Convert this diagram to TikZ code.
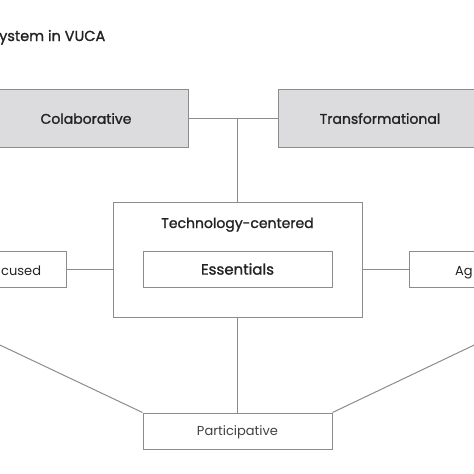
\documentclass[tikz,border=0pt]{standalone}
\usepackage{fontspec}
\setmainfont{Poppins}
\newfontfamily\medf[FakeBold=1.3]{Poppins}
\usetikzlibrary{positioning}
\definecolor{linegray}{HTML}{8C8C8C}
\definecolor{boxgray}{HTML}{DCDCDF}
\definecolor{textdark}{HTML}{222222}
\begin{document}
\begin{tikzpicture}[x=1pt,y=-1pt,font=\fontsize{14}{16}\selectfont,text=textdark]
\tikzset{
    %Define style for filled boxes
    kasse/.style={
           rectangle,
           draw=linegray, fill=boxgray, line width=1pt,
           minimum width=204pt,
           minimum height=58pt,
           inner sep=0pt,
           font=\fontsize{14}{16}\selectfont\medf},
    %Define style for open boxes
    ramme/.style={
           rectangle,
           draw=linegray, line width=1pt,
           minimum width=189pt,
           minimum height=36pt,
           inner sep=0pt},
    % Define line style
    linje/.style={
           draw=linegray,
           line width=1pt}
}
	\useasboundingbox (0,0) rectangle (474,474);
	\clip (0,0) rectangle (474,474);
 %nodes
	\node[anchor=base west,inner sep=0pt,font=\fontsize{14.5}{16}\selectfont\medf] (title) at (-1,41) {ystem in VUCA};

	\node[kasse] (colab) at (86,118.5) {Colaborative};
	\node[kasse] (transf) at (380,118.5) {Transformational};

	\node[ramme,minimum width=249pt,minimum height=115pt] (techc) at (237.5,259.5) {};
	\node[anchor=base,font=\fontsize{14}{16}\selectfont\medf] (techtitle) at (237.5,228) {Technology-centered};
	\node[ramme,font=\fontsize{15}{17}\selectfont\medf] (essent) at (237.5,269) {Essentials};

	\node[ramme,minimum width=128pt] (focus) at (2,269) {};
	\node[anchor=base west,inner sep=0pt,font=\fontsize{13}{15}\selectfont] (focustext) at (1,275) {cused};
	\node[ramme,minimum width=128pt] (agile) at (473,269) {};
	\node[anchor=base west,inner sep=0pt,font=\fontsize{13}{15}\selectfont] (agiletext) at (455,275) {Ag};

	\node[ramme,font=\fontsize{13}{15}\selectfont,text=black!75,text depth=0pt,yshift=-1pt] (particip) at (237.5,430) {Participative};

	\coordinate (leftend) at (-20,335.6);
	\coordinate (rightend) at (494,335.6);

	\path[linje] (colab.east) -- (transf.west);
	\path[linje] (techc.north) -- (techc.north |- colab.east);
	\path[linje] (focus.east) -- (focus.east -| techc.west);
	\path[linje] (agile.west) -- (agile.west -| techc.east);
	\path[linje] (techc.south) -- (particip.north);
	\path[linje] (leftend) -- (particip.north west);
	\path[linje] (rightend) -- (particip.north east);

\end{tikzpicture}
\end{document}
